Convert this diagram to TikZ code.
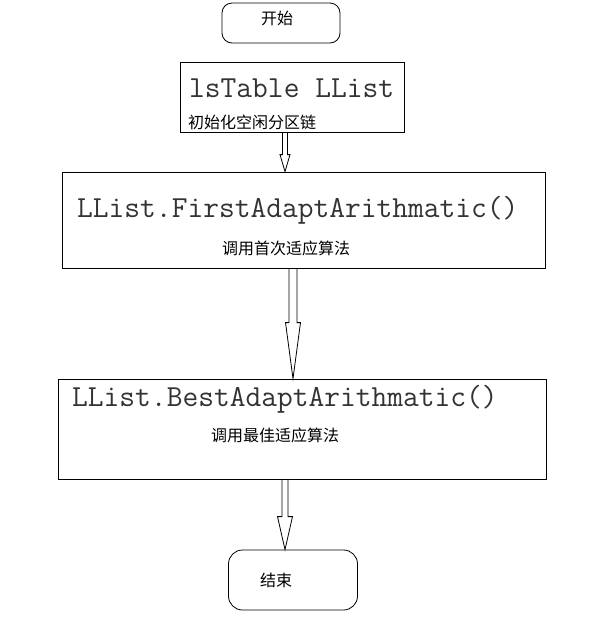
\documentclass[tikz,border=0pt]{standalone}
\usepackage{fontspec}
\newfontfamily\cjk{Noto Sans CJK SC}
\usepackage{tikz}
\usetikzlibrary{calc}

% hollow block arrow: top point, tip point, shaft half width, head half width, head length
\newcommand{\hollowarrow}[5]{%
    \draw[blockarrow] let \p1=#1, \p2=#2 in
        (\x1-#3pt,\y1) -- (\x1-#3pt,\y2+#5pt) -- (\x2-#4pt,\y2+#5pt) -- (\x2,\y2)
        -- (\x2+#4pt,\y2+#5pt) -- (\x1+#3pt,\y2+#5pt) -- (\x1+#3pt,\y1) -- cycle;
}

\begin{document}
\begin{tikzpicture}[
    x=1pt, y=-1pt,
    every node/.style={inner sep=0pt},
    termbox/.style={draw=black, line width=0.8pt},
    procbox/.style={draw=black, line width=0.8pt},
    codetext/.style={anchor=base west, text=black!80, font=\ttfamily\fontsize{30.6}{30.6}\selectfont},
    notetext/.style={anchor=west, font=\cjk\fontsize{16}{16}\selectfont},
    blockarrow/.style={draw=black, line width=0.8pt, fill=white}
]
\useasboundingbox (0,0) rectangle (592,622);

% ==================== START ====================
\node[termbox, rounded corners=10pt, minimum width=118, minimum height=40] (start) at (281,23) {};
\node[notetext, anchor=center] (starttext) at (277,18) {开始};

% ==================== INIT ====================
\node[procbox, minimum width=224, minimum height=70] (init) at (292,97) {};
\node[codetext] (initcode) at (189,97) {lsTable LList};
\node[notetext] (initnote) at (188,122) {初始化空闲分区链};

% ==================== FIRST ADAPT ====================
\node[procbox, minimum width=483, minimum height=96] (first) at (304,220) {};
\node[codetext] (firstcode) at (77,217) {LList.FirstAdaptArithmatic()};
\node[notetext] (firstnote) at (222,248) {调用首次适应算法};

% ==================== BEST ADAPT ====================
\node[procbox, minimum width=488, minimum height=100] (best) at (302,429) {};
\node[codetext] (bestcode) at (72,406) {LList.BestAdaptArithmatic()};
\node[notetext] (bestnote) at (211,435) {调用最佳适应算法};

% ==================== END ====================
\node[termbox, rounded corners=14pt, minimum width=129, minimum height=60] (end) at (293,580) {};
\node[notetext, anchor=center] (endtext) at (276,580) {结束};

% ==================== ARROWS ====================
\coordinate (arrowa) at (285,0);
\coordinate (arrowb) at (293,0);
\coordinate (arrowc) at (285,0);
\hollowarrow{(arrowa |- init.south)}{(arrowa |- first.north)}{2.5}{5}{17}
\hollowarrow{(arrowb |- first.south)}{(arrowb |- best.north)}{4}{7.5}{56}
\hollowarrow{(arrowc |- best.south)}{(arrowc |- end.north)}{3}{7.5}{33}

\end{tikzpicture}
\end{document}
